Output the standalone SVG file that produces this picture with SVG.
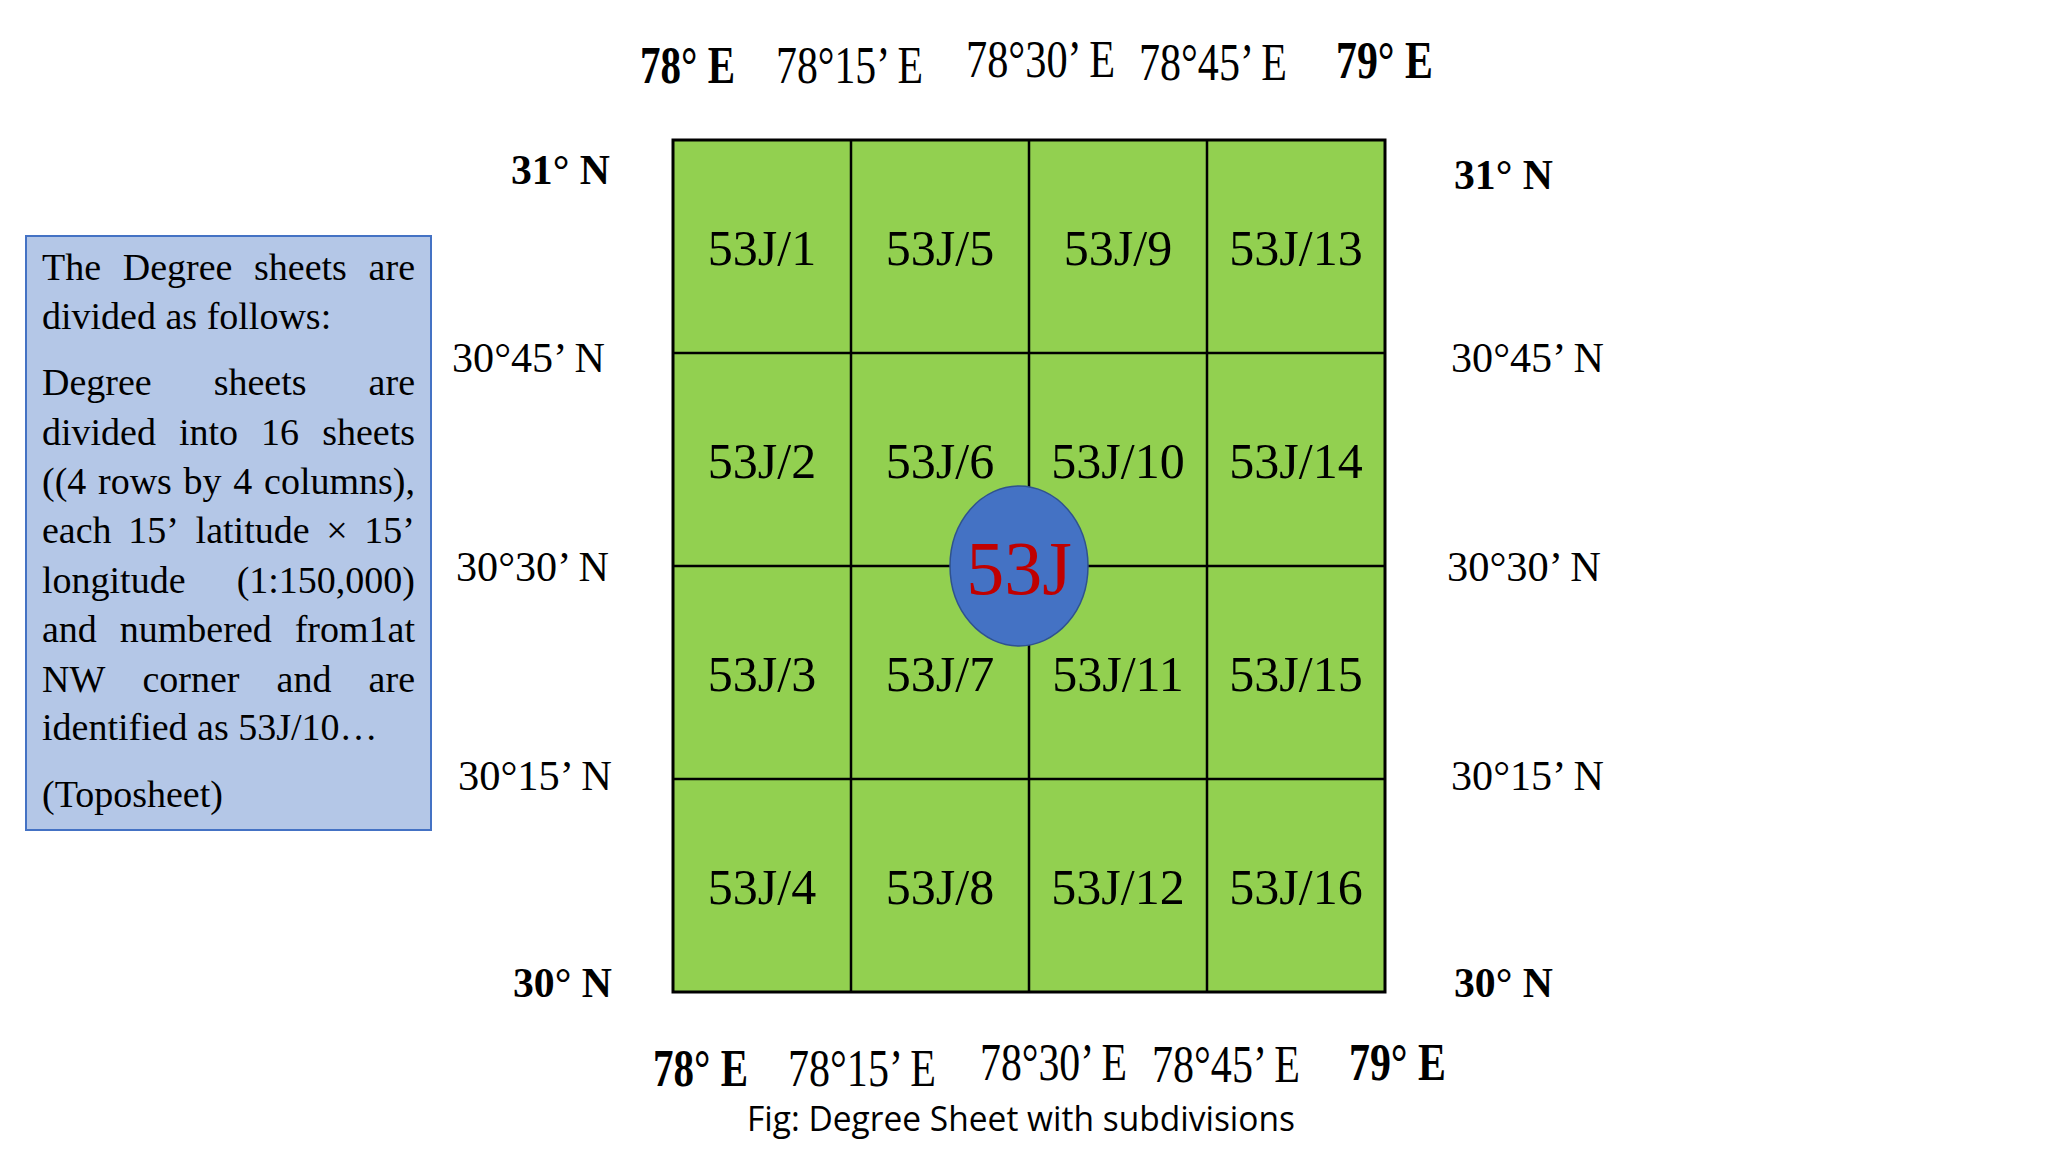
<svg xmlns="http://www.w3.org/2000/svg" width="2048" height="1152" viewBox="0 0 2048 1152">
<style>
.t{font-family:"Liberation Serif","Times New Roman",serif;fill:#000}
.b{font-weight:bold}
.cell{font-size:50px;text-anchor:middle}
.box{font-size:38px}
.lon{font-size:53px}
.lat{font-size:42px}
.grid{stroke:#000;stroke-width:2.5;fill:none}
</style>
<rect width="2048" height="1152" fill="#fff"/>
<g id="textbox">
<rect x="26" y="236" width="405" height="594" fill="#B4C7E7" stroke="#4472C4" stroke-width="2"/>
<text class="t box"><tspan x="42" y="280">The</tspan><tspan x="122.7" y="280">Degree</tspan><tspan x="254" y="280">sheets</tspan><tspan x="415" y="280" text-anchor="end">are</tspan></text>
<text class="t box" x="42" y="329">divided as follows:</text>
<text class="t box"><tspan x="42" y="395">Degree</tspan><tspan x="213.7" y="395">sheets</tspan><tspan x="415" y="395" text-anchor="end">are</tspan></text>
<text class="t box"><tspan x="42" y="445">divided</tspan><tspan x="179" y="445">into</tspan><tspan x="261" y="445">16</tspan><tspan x="415" y="445" text-anchor="end">sheets</tspan></text>
<text class="t box"><tspan x="42" y="494">((4</tspan><tspan x="98" y="494">rows</tspan><tspan x="183.6" y="494">by</tspan><tspan x="233.3" y="494">4</tspan><tspan x="415" y="494" text-anchor="end">columns),</tspan></text>
<text class="t box"><tspan x="42" y="543">each</tspan><tspan x="128.3" y="543">15’</tspan><tspan x="195.6" y="543">latitude</tspan><tspan x="326.3" y="543">×</tspan><tspan x="415" y="543" text-anchor="end">15’</tspan></text>
<text class="t box"><tspan x="42" y="593">longitude</tspan><tspan x="415" y="593" text-anchor="end">(1:150,000)</tspan></text>
<text class="t box"><tspan x="42" y="642">and</tspan><tspan x="119.8" y="642">numbered</tspan><tspan x="415" y="642" text-anchor="end">from1at</tspan></text>
<text class="t box"><tspan x="42" y="692">NW</tspan><tspan x="142.4" y="692">corner</tspan><tspan x="276.6" y="692">and</tspan><tspan x="415" y="692" text-anchor="end">are</tspan></text>
<text class="t box" x="42" y="740">identified as 53J/10…</text>
<text class="t box" x="42" y="807">(Toposheet)</text>
</g>
<g id="grid">
<rect x="673" y="140" width="712" height="852" fill="#92D050"/>
<path class="grid" d="M851 140V992M1029 140V992M1207 140V992M673 353H1385M673 566H1385M673 779H1385"/>
<rect x="673" y="140" width="712" height="852" fill="none" stroke="#000" stroke-width="3"/>
</g>
<g id="cells">
<text class="t cell" x="762" y="265">53J/1</text>
<text class="t cell" x="940" y="265">53J/5</text>
<text class="t cell" x="1118" y="265">53J/9</text>
<text class="t cell" x="1296" y="265">53J/13</text>
<text class="t cell" x="762" y="478">53J/2</text>
<text class="t cell" x="940" y="478">53J/6</text>
<text class="t cell" x="1118" y="478">53J/10</text>
<text class="t cell" x="1296" y="478">53J/14</text>
<text class="t cell" x="762" y="691">53J/3</text>
<text class="t cell" x="940" y="691">53J/7</text>
<text class="t cell" x="1118" y="691">53J/11</text>
<text class="t cell" x="1296" y="691">53J/15</text>
<text class="t cell" x="762" y="904">53J/4</text>
<text class="t cell" x="940" y="904">53J/8</text>
<text class="t cell" x="1118" y="904">53J/12</text>
<text class="t cell" x="1296" y="904">53J/16</text>
</g>
<g id="center53J">
<ellipse cx="1019" cy="566" rx="69" ry="80" fill="#4472C4" stroke="#2F528F" stroke-width="1.5"/>
<text class="t" x="1019" y="594" font-size="76" text-anchor="middle" style="fill:#C00000">53J</text>
</g>
<g id="lon-top">
<text class="t lon b" x="640" y="83" textLength="95" lengthAdjust="spacingAndGlyphs">78° E</text>
<text class="t lon" x="776" y="83" textLength="147" lengthAdjust="spacingAndGlyphs">78°15’ E</text>
<text class="t lon" x="966" y="77" textLength="149" lengthAdjust="spacingAndGlyphs">78°30’ E</text>
<text class="t lon" x="1139" y="80" textLength="148" lengthAdjust="spacingAndGlyphs">78°45’ E</text>
<text class="t lon b" x="1336" y="78" textLength="97" lengthAdjust="spacingAndGlyphs">79° E</text>
</g>
<g id="lon-bottom">
<text class="t lon b" x="653" y="1086" textLength="95" lengthAdjust="spacingAndGlyphs">78° E</text>
<text class="t lon" x="788" y="1086" textLength="148" lengthAdjust="spacingAndGlyphs">78°15’ E</text>
<text class="t lon" x="980" y="1080" textLength="147" lengthAdjust="spacingAndGlyphs">78°30’ E</text>
<text class="t lon" x="1152" y="1082" textLength="148" lengthAdjust="spacingAndGlyphs">78°45’ E</text>
<text class="t lon b" x="1349" y="1080" textLength="97" lengthAdjust="spacingAndGlyphs">79° E</text>
</g>
<g id="lat-left">
<text class="t lat b" x="511" y="184" textLength="99" lengthAdjust="spacingAndGlyphs">31° N</text>
<text class="t lat" x="452" y="372" textLength="153" lengthAdjust="spacingAndGlyphs">30°45’ N</text>
<text class="t lat" x="456" y="581" textLength="153" lengthAdjust="spacingAndGlyphs">30°30’ N</text>
<text class="t lat" x="458" y="790" textLength="154" lengthAdjust="spacingAndGlyphs">30°15’ N</text>
<text class="t lat b" x="513" y="997" textLength="99" lengthAdjust="spacingAndGlyphs">30° N</text>
</g>
<g id="lat-right">
<text class="t lat b" x="1454" y="189" textLength="99" lengthAdjust="spacingAndGlyphs">31° N</text>
<text class="t lat" x="1451" y="372" textLength="153" lengthAdjust="spacingAndGlyphs">30°45’ N</text>
<text class="t lat" x="1447" y="581" textLength="154" lengthAdjust="spacingAndGlyphs">30°30’ N</text>
<text class="t lat" x="1451" y="790" textLength="153" lengthAdjust="spacingAndGlyphs">30°15’ N</text>
<text class="t lat b" x="1454" y="997" textLength="99" lengthAdjust="spacingAndGlyphs">30° N</text>
</g>
<g id="caption">
<text x="1021" y="1131" font-family="'Open Sans','Noto Sans',sans-serif" font-size="34" text-anchor="middle" textLength="548" lengthAdjust="spacingAndGlyphs" fill="#000">Fig: Degree Sheet with subdivisions</text>
</g>
</svg>
